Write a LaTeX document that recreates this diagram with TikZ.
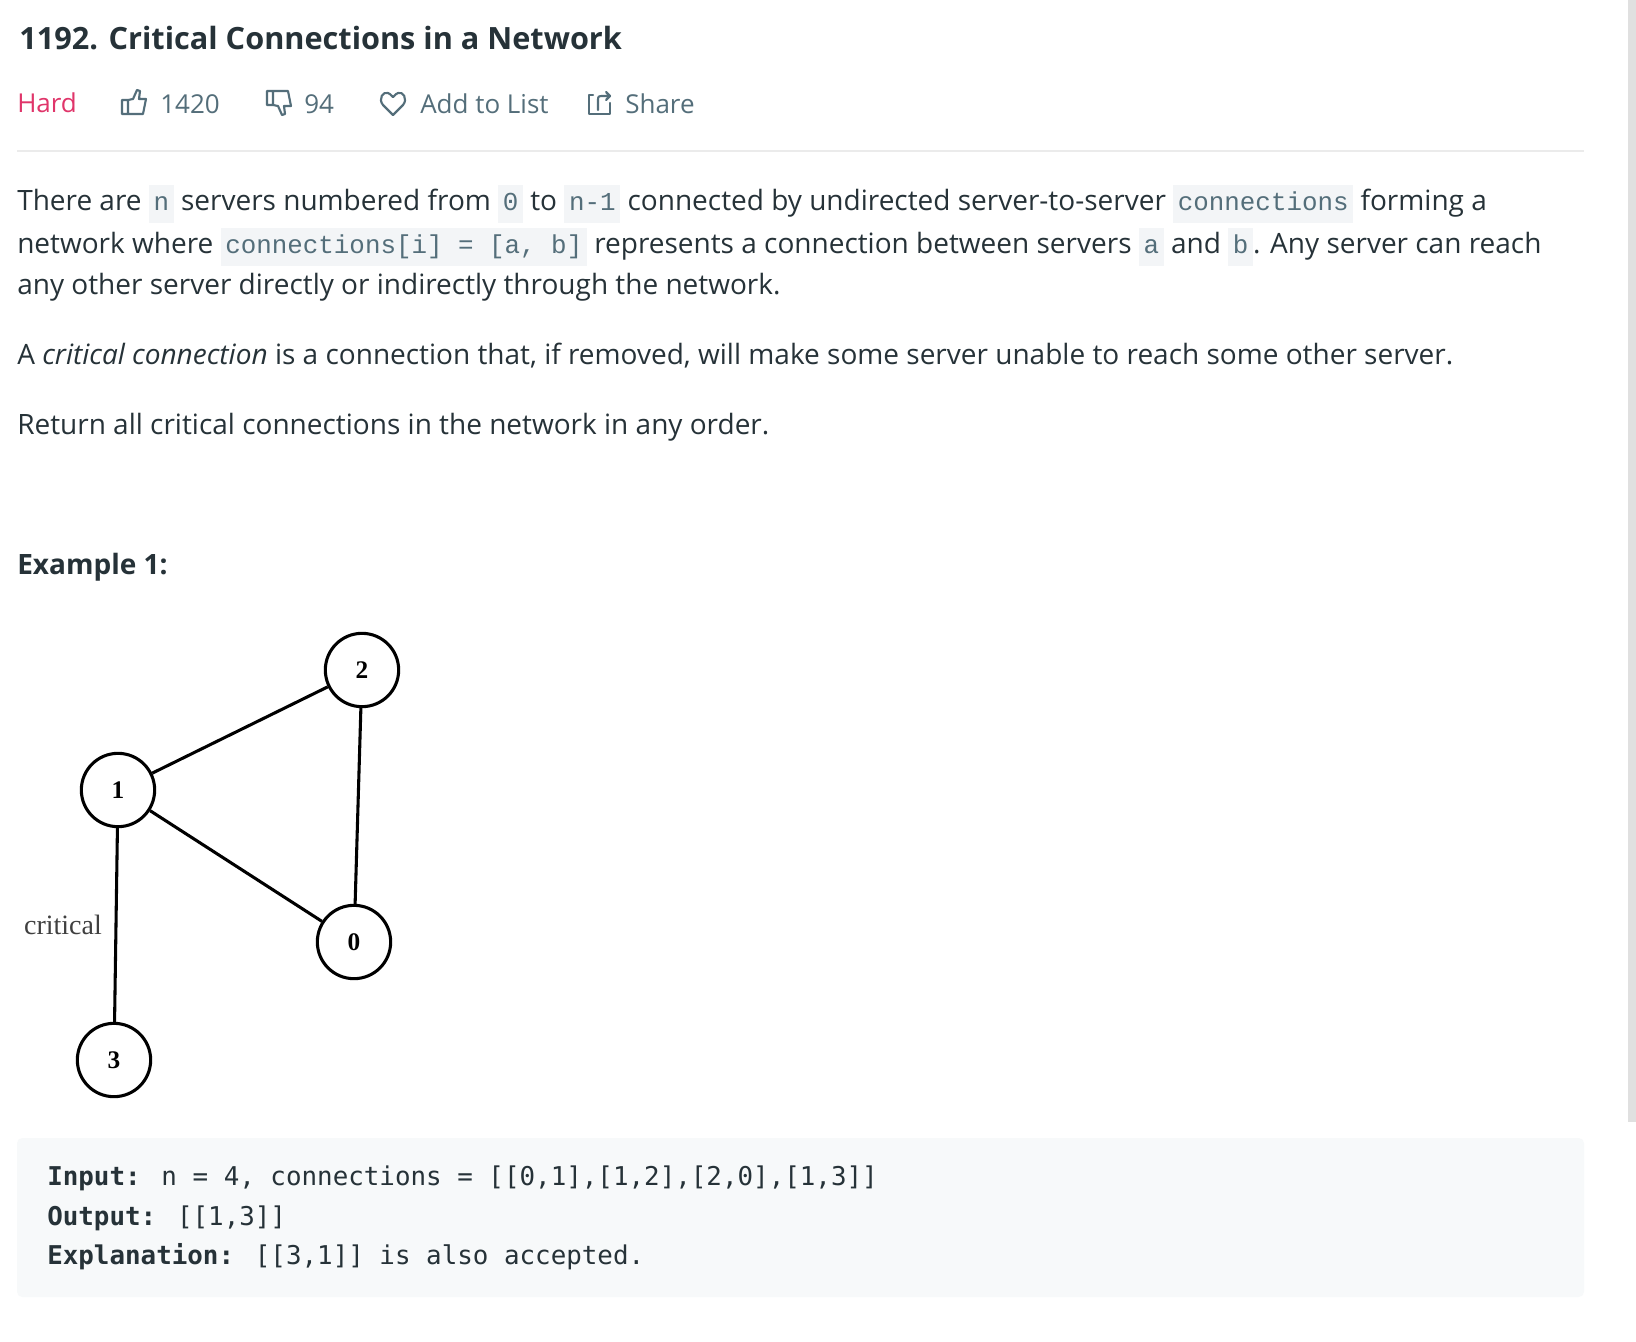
\documentclass[tikz,border=0pt]{standalone}
\usepackage{fontspec}
\setmainfont{Open Sans}
\newfontfamily\codefont{Liberation Mono}
\newfontfamily\boxfont{DejaVu Sans Mono}
\newfontfamily\serf{Liberation Serif}
\definecolor{txt}{HTML}{263238}
\definecolor{hdr}{HTML}{546E7A}
\definecolor{hard}{HTML}{E0356A}
\definecolor{codebg}{HTML}{F3F5F7}
\definecolor{codetx}{HTML}{546E7A}
\definecolor{boxbg}{HTML}{F7F9FA}
\newcommand{\ic}[1]{{\setlength\fboxsep{3.5pt}\colorbox{codebg}{\textcolor{codetx}{\codefont\fontsize{19.4}{22}\selectfont\strut #1}}}}
\tikzset{
 para/.style={anchor=base west,inner sep=0pt,text=txt,font=\fontsize{21}{24}\selectfont},
 hd/.style={anchor=base west,inner sep=0pt,text=hdr,font=\fontsize{19.5}{24}\selectfont},
 srv/.style={circle,draw=black,line width=2.3pt,minimum size=55pt,inner sep=0pt,font=\serf\bfseries\fontsize{19}{22}\selectfont},
 edge/.style={line width=2.3pt},
 icon/.style={draw=hdr,line width=1.6pt,line join=round,line cap=round},
 bx/.style={anchor=base west,inner sep=0pt,text=txt,font=\boxfont\fontsize{19.4}{24}\selectfont}
}
\begin{document}
\begin{tikzpicture}[x=0.75pt,y=-0.75pt]
\useasboundingbox (0,0) rectangle (1636,1342);
\fill[white] (0,0) rectangle (1636,1342);
\fill[black!12] (1628,0) rectangle (1636,1122);
% title
\node[anchor=base west,inner sep=0pt,text=txt,font=\bfseries\fontsize{23}{28}\selectfont] (title) at (19,50) {1192. Critical Connections in a Network};
% header row
\node[anchor=base west,inner sep=0pt,text=hard,font=\fontsize{19.5}{24}\selectfont] (hardt) at (17,112) {Hard};
\draw[icon] (122,114) rectangle (128,100) (128,100) -- (133,99) -- (137,90) -- (140,91) -- (139,99) -- (146,99) -- (143,114) -- (128,114);
\node[hd] (likes) at (160,113) {1420};
\draw[icon] (267,91) rectangle (273,105) (273,105) -- (278,106) -- (282,115) -- (285,114) -- (284,106) -- (291,106) -- (288,91) -- (273,91);
\node[hd] (dis) at (304,113) {94};
\draw[icon] (393,115) -- (383,105) .. controls (378,99) and (383,91) .. (388,93) .. controls (390,94) .. (393,97) .. controls (396,94) .. (398,93) .. controls (403,91) and (408,99) .. (403,105) -- cycle;
\node[hd] (add) at (420,113) {Add to List};
\draw[icon] (593,95) -- (589,95) -- (589,114) -- (610,114) -- (610,103);
\draw[icon] (598,110) -- (598,101) .. controls (598,96) .. (604,96) -- (610,96) (606,92) -- (610,96) -- (606,100);
\node[hd] (share) at (625,113) {Share};
\draw[black!8,line width=1.2pt] (17,151) -- (1584,151);
% paragraph
\node[para] (l1) at (17,210) {There are \ic{n} servers numbered from \ic{0} to \ic{n-1} connected by undirected server-to-server \ic{connections} forming a};
\node[para] (l2) at (17,253) {network where \ic{connections[i] = [a, b]} represents a connection between servers \ic{a} and \ic{b}. Any server can reach};
\node[para] (l3) at (17,294) {any other server directly or indirectly through the network.};
\node[para] (l4) at (17,364) {A \textit{critical connection} is a connection that, if removed, will make some server unable to reach some other server.};
\node[para] (l5) at (17,434) {Return all critical connections in the network in any order.};
\node[para,font=\bfseries\fontsize{21}{24}\selectfont] (ex) at (17,574) {Example 1:};
% graph
\node[srv] (n2) at (362,670) {2};
\node[srv] (n1) at (118,790) {1};
\node[srv] (n0) at (354,942) {0};
\node[srv] (n3) at (114,1060) {3};
\draw[edge] (n1) -- (n2);
\draw[edge] (n2) -- (n0);
\draw[edge] (n1) -- (n0);
\draw[edge] (n1) -- (n3);
\node[anchor=base,inner sep=0pt,text=black!75,font=\serf\fontsize{21}{24}\selectfont] (crit) at (63,934) {critical};
% code box
\fill[boxbg,rounded corners=4] (17,1138) rectangle (1584,1297);
\node[bx] (in) at (47,1185) {\textbf{Input:} n = 4, connections = [[0,1],[1,2],[2,0],[1,3]]};
\node[bx] (out) at (47,1225) {\textbf{Output:} [[1,3]]};
\node[bx] (exp) at (47,1264) {\textbf{Explanation:} [[3,1]] is also accepted.};
\end{tikzpicture}
\end{document}
